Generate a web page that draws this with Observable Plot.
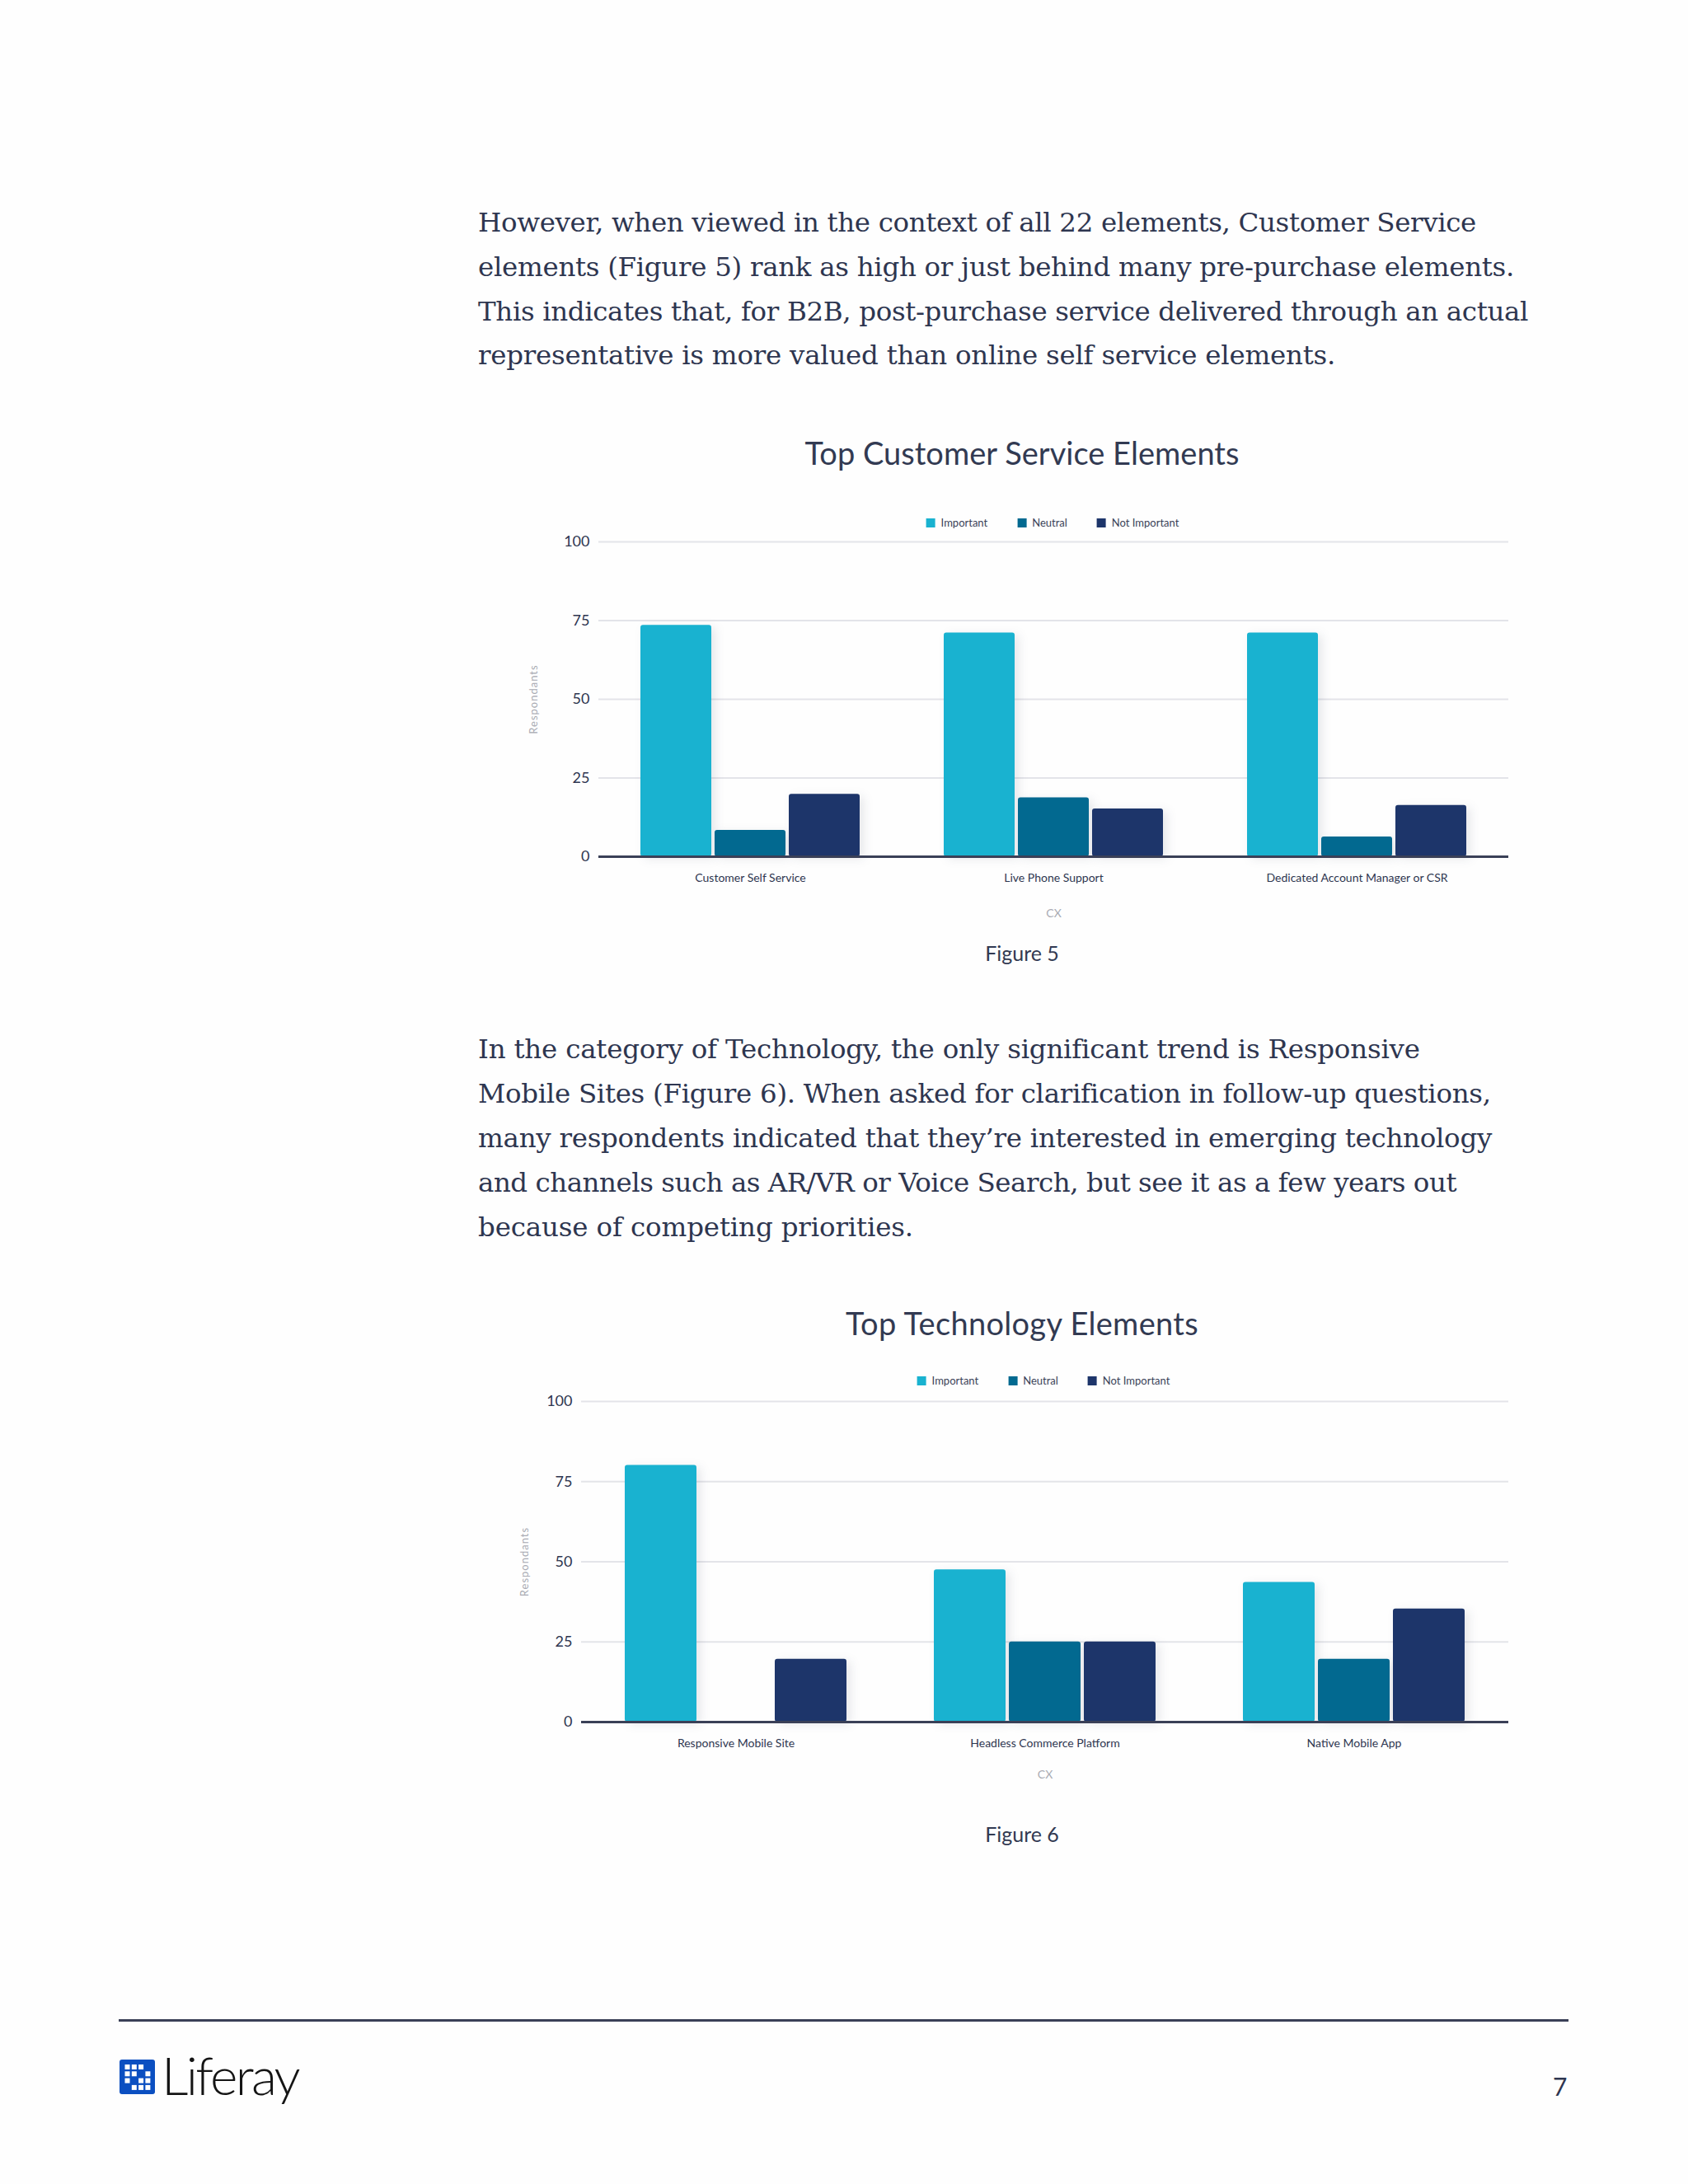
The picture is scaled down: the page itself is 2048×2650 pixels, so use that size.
<!DOCTYPE html>
<html><head><meta charset="utf-8">
<script src="https://cdn.jsdelivr.net/npm/d3@7"></script>
<script src="https://cdn.jsdelivr.net/npm/@observablehq/plot@0.6"></script>
<style>
html,body{margin:0;padding:0;background:#fff;}
#page{position:relative;width:2048px;height:2650px;background:#fefefe;overflow:hidden;font-family:Lato,sans-serif;color:#2e3650;}
.line{position:absolute;left:580px;white-space:nowrap;font-family:"DejaVu Serif",serif;font-size:32.5px;line-height:40px;color:#2e3650;}
.title{position:absolute;white-space:nowrap;font-family:Lato,sans-serif;font-size:38px;line-height:46px;color:#323a52;transform:translateX(-50%);}
.fig{position:absolute;white-space:nowrap;font-family:Lato,sans-serif;font-size:25px;line-height:30px;color:#323a52;transform:translateX(-50%);}
.chart{position:absolute;left:560px;}
.lgwrap{position:absolute;transform:translateX(-50%);}
.lg-swatches{font-family:Lato,sans-serif !important;font-size:13px !important;color:#3a4258 !important;min-height:16px !important;margin:0 !important;}
.lg-swatch{margin-right:36px !important;}
.lg-swatch:last-child{margin-right:0 !important;}
.lg-swatch svg{margin-right:7px !important;}
[aria-label="y-axis label"]{fill:#a9abb3;font-size:13px;letter-spacing:1px;}
[aria-label="fx-axis label"]{fill:#a9abb3;font-size:14px;}
[aria-label="fx-axis tick label"]{font-size:14px;}
[aria-label="bar"] rect{filter:drop-shadow(5px 3px 6px rgba(20,30,60,0.10));}
#footer-line{position:absolute;left:144px;top:2450px;width:1759px;height:3px;background:#3a4057;}
#logo{position:absolute;left:145px;top:2499px;}
#brand{position:absolute;left:196px;top:2480px;font-family:Lato,sans-serif;font-weight:300;font-size:64px;line-height:76px;color:#141414;white-space:nowrap;}
#pnum{position:absolute;left:1884px;top:2512px;font-family:Lato,sans-serif;font-size:30px;line-height:38px;color:#2e3650;}
</style>
</head><body>
<div id="page"></div>
<script>
// ---------- data ----------
const series = ["Important", "Neutral", "Not Important"];
const seriesColors = ["#19b2d0", "#026990", "#1d356a"];
const yTicks = [0, 25, 50, 75, 100];

const csTitle = "Top Customer Service Elements";
const csCategories = ["Customer Self Service", "Live Phone Support", "Dedicated Account Manager or CSR"];
const csImportant = [73.5, 71.1, 71.1];
const csNeutral = [8.4, 18.7, 6.3];
const csNotImportant = [19.8, 15.2, 16.3];

const techTitle = "Top Technology Elements";
const techCategories = ["Responsive Mobile Site", "Headless Commerce Platform", "Native Mobile App"];
const techImportant = [80.1, 47.5, 43.6];
const techNeutral = [0, 25, 19.6];
const techNotImportant = [19.6, 25, 35.3];

const xLabel = "CX";
const yLabel = "Respondants";

const para1 = [
  "However, when viewed in the context of all 22 elements, Customer Service",
  "elements (Figure 5) rank as high or just behind many pre-purchase elements.",
  "This indicates that, for B2B, post-purchase service delivered through an actual",
  "representative is more valued than online self service elements."
];
const para1Ends = [1791, 1837, 1854, 1620];
const para1Y = [272, 326, 380, 433];

const para2 = [
  "In the category of Technology, the only significant trend is Responsive",
  "Mobile Sites (Figure 6). When asked for clarification in follow-up questions,",
  "many respondents indicated that they\u2019re interested in emerging technology",
  "and channels such as AR/VR or Voice Search, but see it as a few years out",
  "because of competing priorities."
];
const para2Ends = [1722, 1808, 1810, 1767, 1108];
const para2Y = [1275, 1329, 1383, 1437, 1491];

// ---------- page ----------
const page = document.getElementById("page");
function addDiv(cls, text, style, targetW) {
  const d = document.createElement("div");
  d.className = cls;
  d.textContent = text;
  Object.assign(d.style, style);
  if (targetW) d.dataset.w = targetW;
  page.appendChild(d);
  return d;
}
para1.forEach((t, i) => addDiv("line", t, {top: (para1Y[i] - 22) + "px"}, para1Ends[i] - 580));
para2.forEach((t, i) => addDiv("line", t, {top: (para2Y[i] - 22) + "px"}, para2Ends[i] - 580));

addDiv("title", csTitle, {left: "1240px", top: (549 - 23) + "px"}, 527);
addDiv("title", techTitle, {left: "1240px", top: (1605 - 23) + "px"}, 428);
addDiv("fig", "Figure 5", {left: "1240px", top: (1156 - 15) + "px"});
addDiv("fig", "Figure 6", {left: "1240px", top: (2225 - 15) + "px"});

function legend(cx, cy) {
  const wrap = document.createElement("div");
  wrap.className = "lgwrap";
  wrap.style.left = cx + "px";
  wrap.style.top = (cy - 8) + "px";
  wrap.appendChild(Plot.legend({color: {domain: series, range: seriesColors}, swatchSize: 11, className: "lg"}));
  page.appendChild(wrap);
}

function chart(categories, imp, neu, notImp, o) {
  const values = [imp, neu, notImp];
  const data = categories.flatMap((c, i) => series.map((s, j) => ({category: c, series: s, value: values[j][i]})));
  const svg = Plot.plot({
    width: 1300, height: o.height,
    marginLeft: o.marginLeft, marginRight: 30, marginTop: o.marginTop, marginBottom: o.marginBottom,
    style: {fontFamily: "Lato, sans-serif", fontSize: "18px", color: "#2e3650", background: "transparent", overflow: "visible"},
    fx: {domain: categories, padding: 0, label: xLabel, labelAnchor: "center", labelOffset: o.xLabelOffset, tickSize: 0, tickPadding: 21},
    x: {domain: series, axis: null, paddingInner: 0.04, paddingOuter: 0.56},
    y: {domain: [0, 100], ticks: yTicks, tickSize: 0, tickPadding: 11, label: yLabel, labelAnchor: "center", labelOffset: o.yLabelOffset, labelArrow: "none"},
    color: {domain: series, range: seriesColors},
    marks: [
      Plot.ruleY(yTicks, {stroke: "#e3e4e9", strokeWidth: 2}),
      Plot.barY(data, {fx: "category", x: "series", y: "value", fill: "series", rx: 3}),
      Plot.ruleY([0], {stroke: "#3a4057", strokeWidth: 3})
    ]
  });
  const holder = document.createElement("div");
  holder.className = "chart";
  holder.style.top = o.top + "px";
  holder.appendChild(svg);
  page.appendChild(holder);
}

legend(1277, 634);
chart(csCategories, csImportant, csNeutral, csNotImportant,
  {top: 630, height: 499, marginTop: 27, marginBottom: 90, marginLeft: 166, xLabelOffset: 73, yLabelOffset: 84});
legend(1266, 1675);
chart(techCategories, techImportant, techNeutral, techNotImportant,
  {top: 1680, height: 499, marginTop: 20, marginBottom: 90, marginLeft: 144, xLabelOffset: 68, yLabelOffset: 74});

// footer
const fl = document.createElement("div"); fl.id = "footer-line"; page.appendChild(fl);
const logo = document.createElementNS("http://www.w3.org/2000/svg", "svg");
logo.id = "logo"; logo.setAttribute("width", 43); logo.setAttribute("height", 42);
let inner = '<rect width="43" height="42" rx="3" fill="#0b4fc1"/>';
const pattern = ["1110", "1101", "1011", "0111"];
pattern.forEach((row, r) => [...row].forEach((v, c) => {
  if (v === "1") inner += `<rect x="${6.5 + c * 8.3}" y="${6 + r * 8.3}" width="6" height="6" fill="#fff"/>`;
}));
logo.innerHTML = inner;
page.appendChild(logo);
addDiv("", "Liferay", {}, 166).id = "brand";
addDiv("", "7", {}).id = "pnum";

// fit text widths
document.querySelectorAll("[data-w]").forEach(el => {
  const target = +el.dataset.w;
  const w = el.getBoundingClientRect().width;
  const n = el.textContent.length;
  el.style.letterSpacing = ((target - w) / n) + "px";
});
</script>
</body></html>
